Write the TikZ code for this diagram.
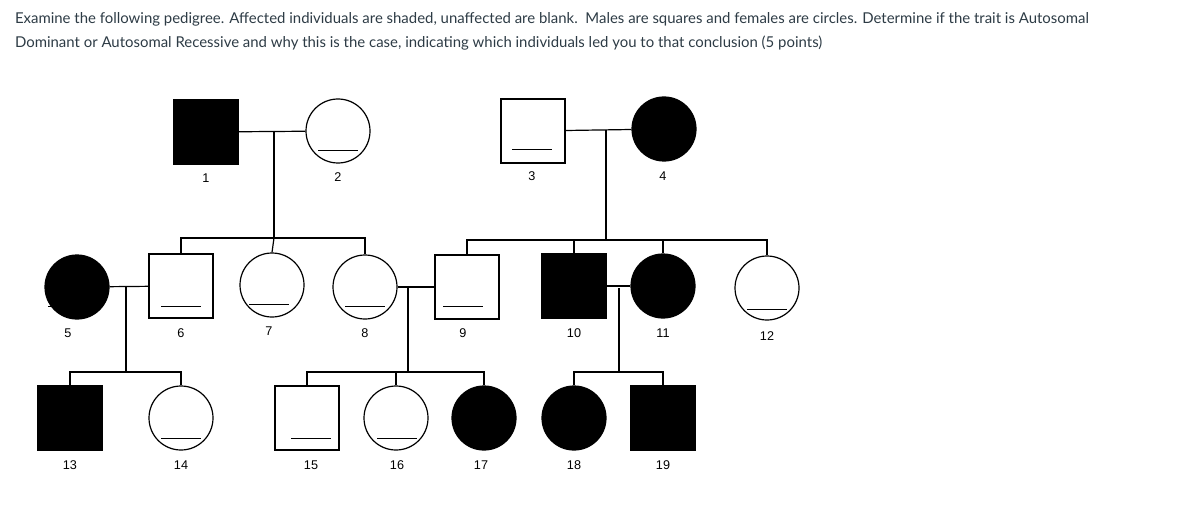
\documentclass[tikz,border=0pt]{standalone}
\usepackage{fontspec}
\setmainfont{Liberation Sans}
\newfontfamily\qfont{Lato}
\definecolor{qtext}{HTML}{2D3B45}
\tikzset{every picture/.style={line width=0.9pt}}
\tikzset{
	male/.style={draw, rectangle, minimum size=48pt, inner sep=0pt},
	female/.style={draw, circle, minimum size=48pt, inner sep=0pt},
	aff/.style={fill=black},
	num/.style={font=\fontsize{9.5}{11}\selectfont}}

\begin{document}
\begin{tikzpicture}[x=0.75pt,y=0.75pt,yscale=-1,xscale=1]
	\useasboundingbox (0,0) rectangle (1201,524);

	% Question text
	\node[anchor=west, qtext, font=\qfont\fontsize{11.2}{13}\selectfont] (q1) at (10,19) {Examine the following pedigree. Affected individuals are shaded, unaffected are blank.\ \ Males are squares and females are circles. Determine if the trait is Autosomal};
	\node[anchor=west, qtext, font=\qfont\fontsize{11.2}{13}\selectfont] (q2) at (10,43) {Dominant or Autosomal Recessive and why this is the case, indicating which individuals led you to that conclusion (5 points)};

	% Generation I
	\node[male, aff] (p1) at (206,132) {};
	\node[female] (p2) at (338,131) {};
	\node[male] (p3) at (533,131) {};
	\node[female, aff] (p4) at (664,129) {};
	% Generation II
	\node[female, aff] (p5) at (77,287) {};
	\node[male] (p6) at (181,286) {};
	\node[female] (p7) at (272,285) {};
	\node[female] (p8) at (365,287) {};
	\node[male] (p9) at (467,287) {};
	\node[male, aff] (p10) at (574,286) {};
	\node[female, aff] (p11) at (663,286) {};
	\node[female] (p12) at (767,288) {};
	% Generation III
	\node[male, aff] (p13) at (70,418) {};
	\node[female] (p14) at (181,418) {};
	\node[male] (p15) at (307,418) {};
	\node[female] (p16) at (396,418) {};
	\node[female, aff] (p17) at (484,418) {};
	\node[female, aff] (p18) at (574,418) {};
	\node[male, aff] (p19) at (663,418) {};

	% Numbers and blanks
	\foreach \n/\x/\y in {1/206/178, 2/338/177, 3/532/176, 4/663/176,
		5/68/333, 6/181/333, 7/269/331, 8/365/333, 9/463/333, 10/574/333, 11/663/333, 12/767/336,
		13/70/465, 14/181/465, 15/311/465, 16/397/465, 17/481/465, 18/574/465, 19/663/465} {
		\node[num] (n\n) at (\x,\y) {\n};
		\draw ([xshift=-15pt,yshift=-20pt]n\n.center) -- ([xshift=15pt,yshift=-20pt]n\n.center);
	}

	% Couples and sibships
	\coordinate (m12) at (274,131);
	\coordinate (m34) at (606,130);
	\coordinate (m56) at (126,286);
	\coordinate (m89) at (408,288);
	\coordinate (m1011) at (619,288);
	\draw (p1) -- (p2);
	\draw (p3) -- (p4);
	\draw (p5) -- (p6);
	\draw (p8) -- (p9);
	\draw (p10) -- (p11);

	\draw (m12) -- (274,238);
	\draw (p6.north) |- (274,238) -| (p8.north);
	\draw (274,238) -- (p7.north);
	\draw (m34) -- (606,240);
	\draw (p9.north) |- (606,240) -| (p12.north);
	\draw (p10.north) -- (574,240);
	\draw (p11.north) -- (663,240);

	\draw (m56) -- (126,372);
	\draw (p13.north) |- (126,372) -| (p14.north);
	\draw (m89) -- (408,372);
	\draw (p15.north) |- (408,372) -| (p17.north);
	\draw (p16.north) -- (396,372);
	\draw (m1011) -- (619,372);
	\draw (p18.north) |- (619,372) -| (p19.north);
\end{tikzpicture}
\end{document}
